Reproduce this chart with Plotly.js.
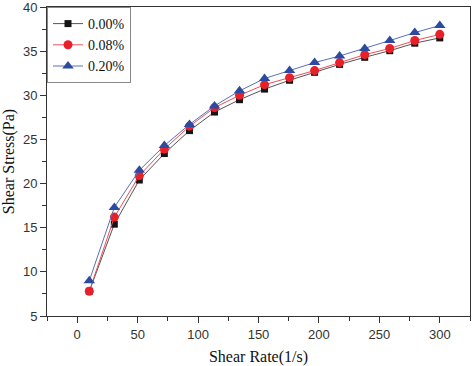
<!DOCTYPE html>
<html><head><meta charset="utf-8">
<script src="https://cdn.plot.ly/plotly-3.0.1.min.js"></script>
<style>html,body{margin:0;padding:0;background:#fff}#chart{width:474px;height:366px}</style>
</head><body><div id="chart"></div>
<script>
const shearRate = [10, 30.7, 51.4, 72.1, 92.9, 113.6, 134.3, 155, 175.7, 196.4, 217.1, 237.9, 258.6, 279.3, 300];
const stress000 = [7.8, 15.4, 20.4, 23.4, 26.0, 28.1, 29.5, 30.7, 31.7, 32.6, 33.5, 34.3, 35.05, 35.9, 36.5];
const stress008 = [7.8, 16.2, 20.9, 23.9, 26.5, 28.6, 30.0, 31.2, 32.0, 32.8, 33.7, 34.6, 35.3, 36.2, 36.9];
const stress020 = [9.0, 17.3, 21.5, 24.3, 26.7, 28.8, 30.5, 31.9, 32.8, 33.7, 34.45, 35.3, 36.2, 37.1, 37.9];
const seriesNames = ['0.00%', '0.08%', '0.20%'];

const traces = [
  {x: shearRate, y: stress000, name: seriesNames[0], mode: 'lines+markers',
   line: {color: '#555555', width: 1}, marker: {symbol: 'square', size: 7, color: '#151515'}},
  {x: shearRate, y: stress008, name: seriesNames[1], mode: 'lines+markers',
   line: {color: '#e8505a', width: 1}, marker: {symbol: 'circle', size: 9, color: '#e8202a'}},
  {x: shearRate, y: stress020, name: seriesNames[2], mode: 'lines+markers',
   line: {color: '#5a70b8', width: 1}, marker: {symbol: 'triangle-up', size: 10, color: '#2b4aa0'}}
];

const axisCommon = {
  showline: true, linecolor: '#333', linewidth: 1, mirror: true,
  ticks: 'outside', ticklen: 6, tickcolor: '#333', tickwidth: 1,
  showgrid: false, zeroline: false, ticklabeloverflow: 'allow',
  tickfont: {family: 'Liberation Sans, Arial, sans-serif', size: 13, color: '#333'},
  minor: {ticks: 'outside', ticklen: 4, tickcolor: '#333', tickwidth: 1}
};

const layout = {
  width: 474, height: 366,
  margin: {l: 47, r: 4, t: 7, b: 50},
  paper_bgcolor: '#fff', plot_bgcolor: '#fff',
  showlegend: true,
  legend: {x: 0, y: 1, xanchor: 'left', yanchor: 'top', bgcolor: '#fff',
    bordercolor: '#888', borderwidth: 1, tracegroupgap: 0,
    font: {family: 'Liberation Serif, Times New Roman, serif', size: 14, color: '#111'}},
  xaxis: Object.assign({}, axisCommon, {
    range: [-25, 325], tickvals: [0, 50, 100, 150, 200, 250, 300],
    minor: Object.assign({}, axisCommon.minor, {tickvals: [-25, 25, 75, 125, 175, 225, 275, 325]}),
    title: {text: 'Shear Rate(1/s)', standoff: 11,
      font: {family: 'Liberation Serif, Times New Roman, serif', size: 16, color: '#111'}}
  }),
  yaxis: Object.assign({}, axisCommon, {
    range: [5, 40], tickvals: [5, 10, 15, 20, 25, 30, 35, 40],
    minor: Object.assign({}, axisCommon.minor, {tickvals: [7.5, 12.5, 17.5, 22.5, 27.5, 32.5, 37.5]}),
    title: {text: 'Shear Stress(Pa)', standoff: 6,
      font: {family: 'Liberation Serif, Times New Roman, serif', size: 16, color: '#111'}}
  })
};

Plotly.newPlot('chart', traces, layout, {displayModeBar: false, staticPlot: true});
</script></body></html>
